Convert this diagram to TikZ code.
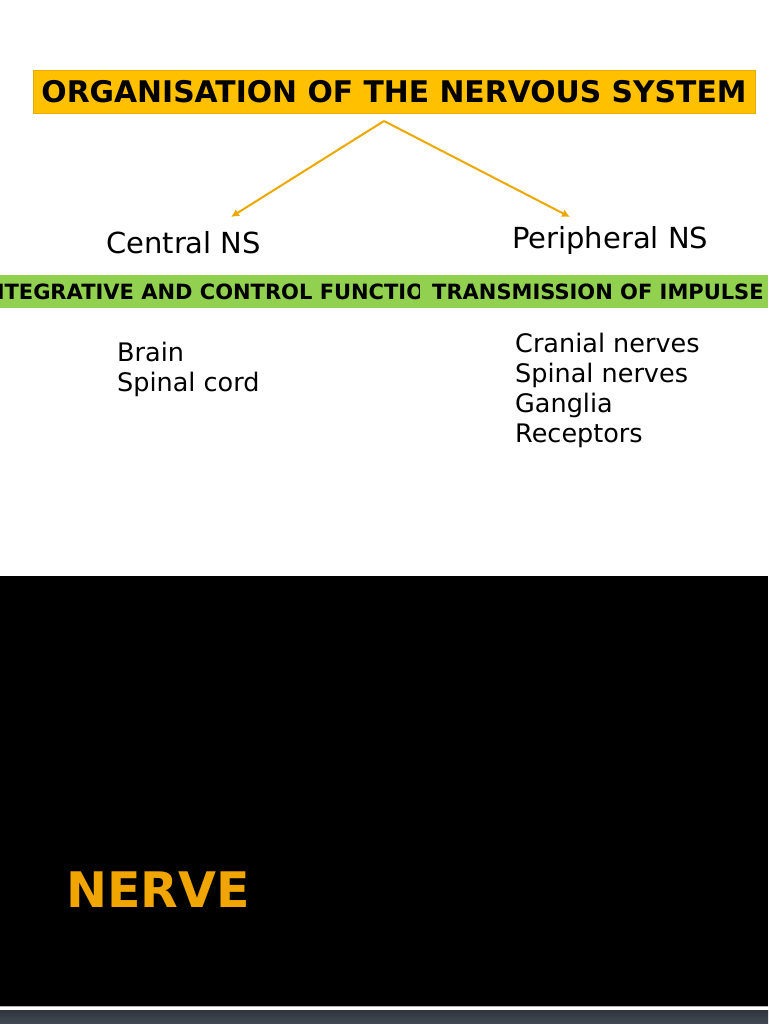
\documentclass[tikz,border=0pt]{standalone}
\usepackage{fontspec}
\setmainfont{DejaVu Sans}
\usetikzlibrary{arrows.meta}
\definecolor{titlegold}{HTML}{FFC000}
\definecolor{arrowgold}{HTML}{EBA900}
\definecolor{bandgreen}{HTML}{92D050}
\definecolor{nervegold}{HTML}{F0A500}
\definecolor{slatetop}{HTML}{30353D}
\definecolor{slatebottom}{HTML}{434A55}

\begin{document}
\begin{tikzpicture}[x=1pt,y=-1pt,
    heading/.style={inner sep=0pt, font=\fontsize{29}{34}\selectfont},
    role/.style={inner sep=0pt, font=\fontsize{21}{25}\selectfont\bfseries},
    items/.style={inner sep=0pt, align=left, font=\fontsize{25.5}{30}\selectfont},
    branch/.style={draw=arrowgold, line width=2pt, -{Latex[length=8pt,width=8pt]}}]
    \useasboundingbox (0,0) rectangle (768,1024);
    \node[fill=titlegold, draw=titlegold!90!black, line width=.4pt, minimum width=722pt, minimum height=43pt,
          inner sep=0pt, font=\fontsize{29.8}{34}\selectfont\bfseries] (title) at (394,91.5) {ORGANISATION OF THE NERVOUS SYSTEM};
    \coordinate (apex) at (384,121);
    \coordinate (cnstip) at (231,217);
    \coordinate (pnstip) at (570,217);
    \draw[branch] (apex) -- (cnstip);
    \draw[branch] (apex) -- (pnstip);
    \node[heading, anchor=base west] (central) at (106,253) {Central NS};
    \node[heading, anchor=base west] (peripheral) at (512,248) {Peripheral NS};
    \fill[bandgreen] (0,275) rectangle (768,308);
    \begin{scope}
        \clip (0,275) rectangle (419,308);
        \node[role, anchor=base west] (cnsrole) at (-21,299) {INTEGRATIVE AND CONTROL FUNCTIONS};
    \end{scope}
    \node[role, anchor=base west] (pnsrole) at (432,299) {TRANSMISSION OF IMPULSE};
    \node[items, anchor=base west] (cnslist) at (117,391) {Brain\\Spinal cord};
    \node[items, anchor=base west] (pnslist) at (515,442) {Cranial nerves\\Spinal nerves\\Ganglia\\Receptors};
    \fill[black] (0,576) rectangle (768,1006);
    \draw[gray!60, line width=.6pt] (0,1006.3) -- (768,1006.3) (0,1010.2) -- (768,1010.2);
    \shade[top color=slatetop, bottom color=slatebottom] (0,1010.5) rectangle (768,1024);
    \node[inner sep=0pt, anchor=base west, text=nervegold, font=\fontsize{49}{58}\selectfont\bfseries] (nerve) at (66,907) {NERVE};
\end{tikzpicture}
\end{document}
